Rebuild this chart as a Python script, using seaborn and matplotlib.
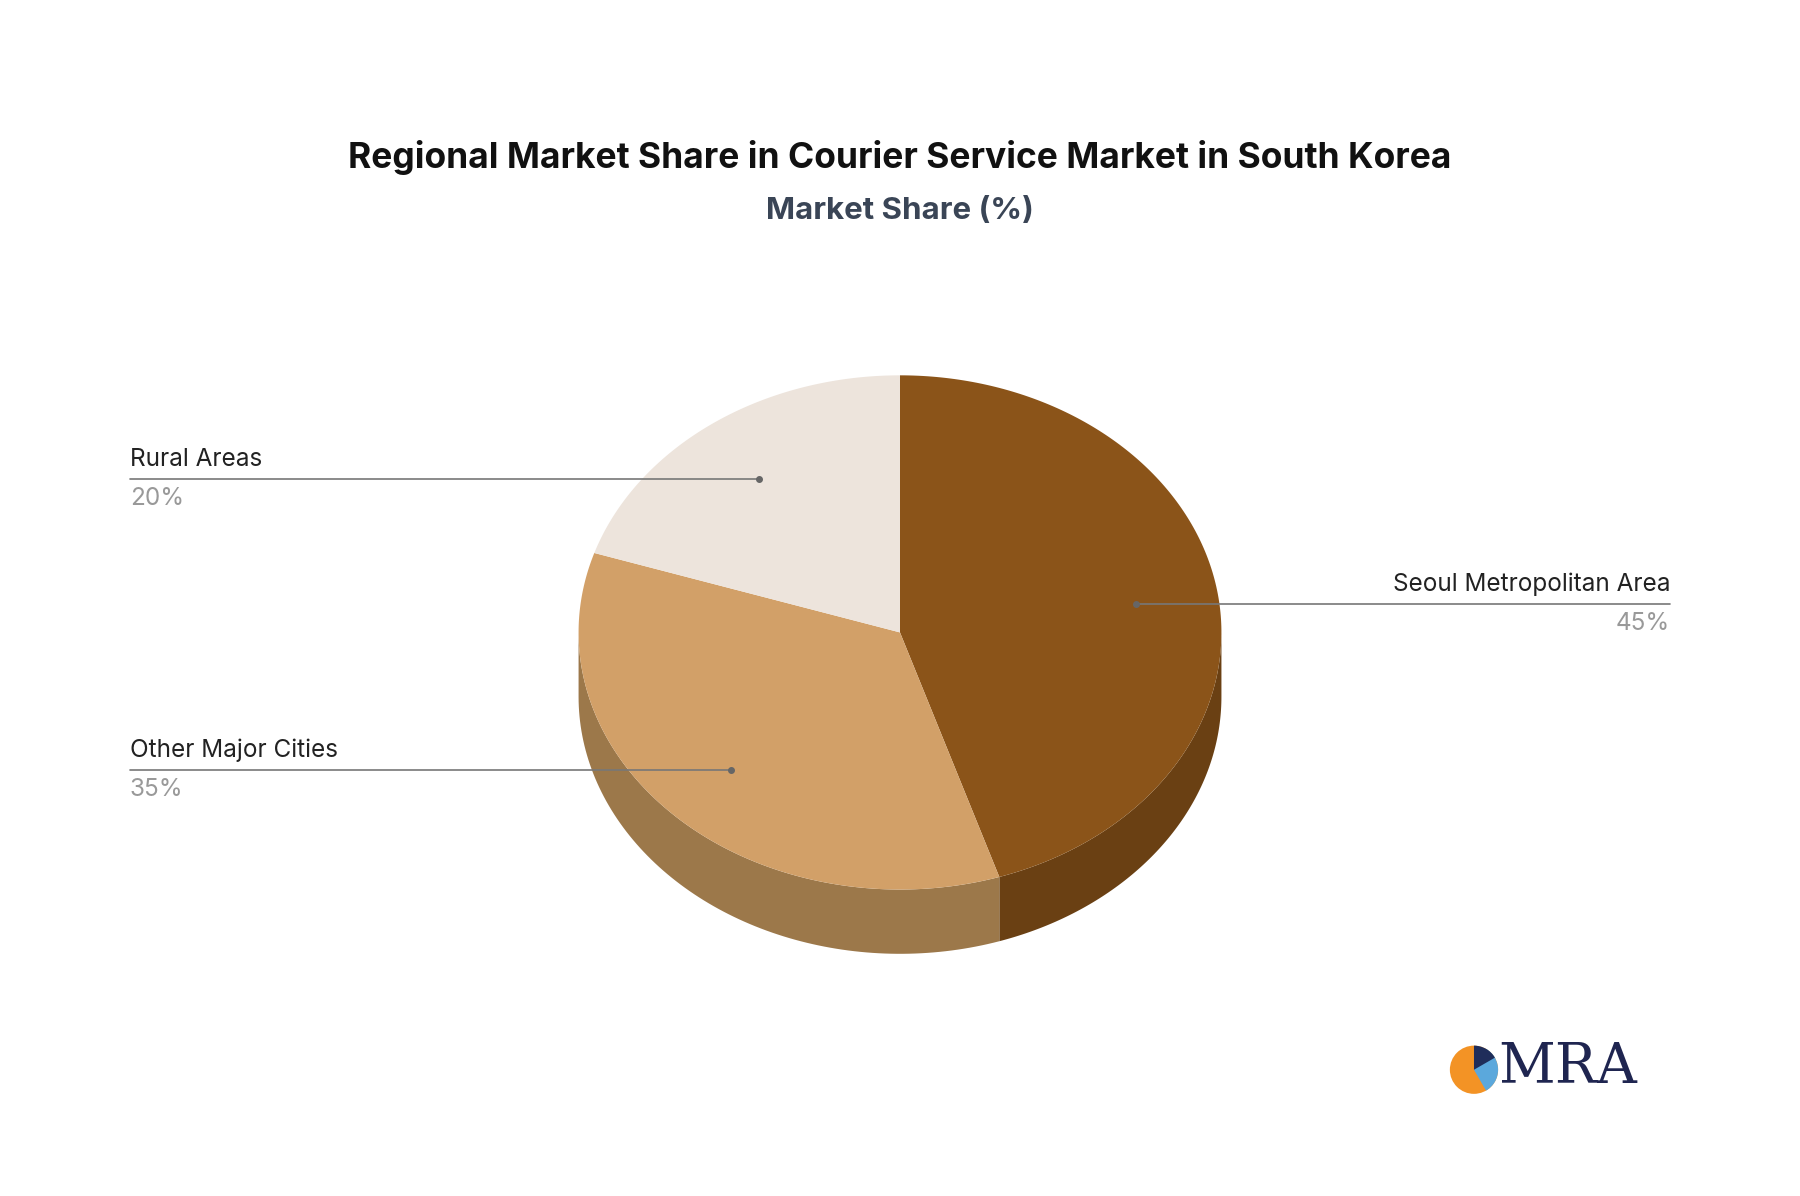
import numpy as np
import seaborn as sns
import matplotlib.pyplot as plt
from matplotlib.patches import Polygon, Circle, Wedge

sns.set_theme(style="white")
plt.rcParams['font.family'] = ['Inter', 'DejaVu Sans']

# data
regions = ["Seoul Metropolitan Area", "Other Major Cities", "Rural Areas"]
shares = [45, 35, 20]
top_colors = ["#8B5419", "#D2A068", "#EDE4DC"]
side_colors = ["#6A4013", "#9C784A", "#BDB6AF"]

# geometry in reference pixel space (1568 x 1042)
W, H = 1568, 1042
cx, cy, rx, ry, depth = 784, 551, 280, 224, 56


def pt(theta_deg, dy=0):
    t = np.radians(theta_deg)
    return cx + rx * np.sin(t), cy - ry * np.cos(t) + dy


fig = plt.figure(figsize=(18, 11.96), dpi=100)
ax = fig.add_axes([0, 0, 1, 1])
ax.set_xlim(0, W)
ax.set_ylim(H, 0)
ax.axis("off")

bounds = np.concatenate([[0], np.cumsum(shares)]) * 3.6

# side walls (front half, 90..270 degrees)
for i in range(len(shares)):
    a0, a1 = max(bounds[i], 90), min(bounds[i + 1], 270)
    if a1 <= a0:
        continue
    th = np.linspace(a0, a1, 100)
    top = [pt(t) for t in th]
    bot = [pt(t, depth) for t in th[::-1]]
    ax.add_patch(Polygon(top + bot, closed=True, facecolor=side_colors[i], edgecolor="none"))

# top faces
for i in range(len(shares)):
    th = np.linspace(bounds[i], bounds[i + 1], 200)
    verts = [(cx, cy)] + [pt(t) for t in th]
    ax.add_patch(Polygon(verts, closed=True, facecolor=top_colors[i], edgecolor="none"))

# labels with leader lines
label_specs = [
    (regions[0], shares[0], (990, 526), 1455, "right"),
    (regions[1], shares[1], (637, 671), 113, "left"),
    (regions[2], shares[2], (661, 417), 113, "left"),
]
for name, val, (dx, dy), ex, ha in label_specs:
    ax.plot([dx, ex], [dy, dy], color="#777777", lw=1.2)
    ax.plot(dx, dy, "o", color="#666666", ms=4)
    ax.text(ex, dy - 7, name, ha=ha, va="bottom", fontsize=17.5, color="#222222")
    ax.text(ex, dy + 7, f"{val}%", ha=ha, va="top", fontsize=17.5, color="#999999")

# titles
ax.text(784, 137, "Regional Market Share in Courier Service Market in South Korea",
        ha="center", va="center", fontsize=25.5, fontweight="bold", color="#111111")
ax.text(784, 184, "Market Share (%)", ha="center", va="center",
        fontsize=22.5, fontweight="bold", color="#3A4556")

# logo
ax.add_patch(Circle((1284, 932), 21, facecolor="#F39325", edgecolor="none"))
ax.add_patch(Wedge((1284, 932), 21, -60, 60, facecolor="#5BA8DC", edgecolor="none"))
ax.add_patch(Wedge((1284, 932), 21, -90, -30, facecolor="#1F2D5A", edgecolor="none"))
ax.text(1366, 930, "MRA", ha="center", va="center", fontsize=40,
        family="DejaVu Serif", color="#1F2550")

fig.savefig("out.png", dpi=100, facecolor="white")
